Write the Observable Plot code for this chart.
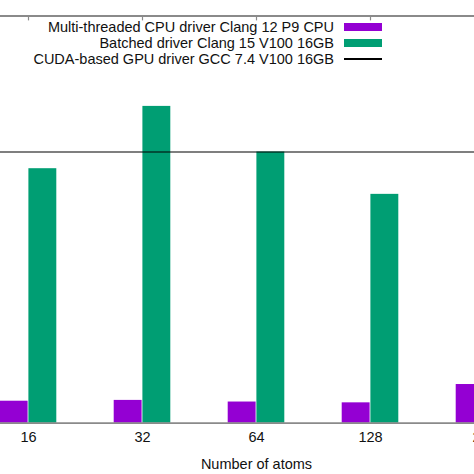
<!DOCTYPE html>
<html>
<head>
<meta charset="utf-8">
<script src="https://cdn.jsdelivr.net/npm/d3@7"></script>
<script src="https://cdn.jsdelivr.net/npm/@observablehq/plot@0.6"></script>
<style>
  html, body { margin: 0; padding: 0; background: #fff; }
  #wrap { position: relative; width: 474px; height: 474px; overflow: hidden; background: #fff; font-family: "Liberation Sans", Arial, sans-serif; }
  #chart { position: absolute; left: -31.4px; top: 0; width: 574px; height: 474px; z-index: 1; }
  #chart svg { display: block; max-width: none !important; width: 574px !important; height: 474px !important; }
  #legend { position: absolute; top: 19px; left: 0; width: 382px; font-size: 14.5px; color: #111; z-index: 2; }
  .row { display: flex; justify-content: flex-end; align-items: center; height: 16px; }
  .sw { width: 38px; margin-left: 10px; }
</style>
</head>
<body>
<div id="wrap">
  <div id="chart"></div>
  <div id="legend"></div>
</div>
<script>
// Data (y values in relative units; the y axis is cropped in the reference)
const categories = ["16", "32", "64", "128", "256"];
const cpuValues = [5.4, 5.6, 5.2, 5.0, 9.5];          // Multi-threaded CPU driver Clang 12 P9 CPU
const batchedValues = [62.5, 77.8, 66.6, 56.2, null]; // Batched driver Clang 15 V100 16GB
const cudaValue = 66.6;                               // CUDA-based GPU driver GCC 7.4 V100 16GB
const yMax = 100;
const seriesNames = [
  "Multi-threaded CPU driver Clang 12 P9 CPU",
  "Batched driver Clang 15 V100 16GB",
  "CUDA-based GPU driver GCC 7.4 V100 16GB"
];
const colors = ["#9400d3", "#009e73", "#000000"];

const cpuData = categories.map((c, i) => ({cat: c, v: cpuValues[i]})).filter(d => d.v != null);
const batchedData = categories.map((c, i) => ({cat: c, v: batchedValues[i]})).filter(d => d.v != null);

const W = 574, H = 474;
const bw = W / categories.length; // band width
const plot = Plot.plot({
  width: W,
  height: H,
  marginLeft: 0,
  marginRight: 0,
  marginTop: 15.5,
  marginBottom: 51.3,
  style: {fontFamily: "Liberation Sans, Arial, sans-serif", fontSize: "14.5px", color: "#111", background: "white", maxWidth: "none"},
  x: {domain: categories, padding: 0},
  y: {domain: [0, yMax], axis: null},
  marks: [
    Plot.barY(cpuData, {x: "cat", y: "v", fill: colors[0], insetLeft: bw * 0.25, insetRight: bw * 0.5}),
    Plot.barY(batchedData, {x: "cat", y: "v", fill: colors[1], insetLeft: bw * 0.5, insetRight: bw * 0.25}),
    Plot.ruleY([cudaValue], {stroke: colors[2], strokeWidth: 1.2}),
    Plot.ruleY([yMax], {stroke: "#8a8a8a", strokeWidth: 1.8}),
    Plot.ruleY([0], {stroke: "#8a8a8a", strokeWidth: 1.8}),
    Plot.ruleX(categories, {x: d => d, y1: yMax, y2: yMax - 1.2, stroke: "#8a8a8a", strokeWidth: 1.2}),
    Plot.axisX({anchor: "bottom", tickSize: 0, tickPadding: 9, fontSize: 14.5, label: "Number of atoms", labelAnchor: "center", labelArrow: "none", labelOffset: 46})
  ]
});
document.getElementById("chart").appendChild(plot);

const legend = document.getElementById("legend");
seriesNames.forEach((name, i) => {
  const row = document.createElement("div");
  row.className = "row";
  const t = document.createElement("span");
  t.textContent = name;
  const sw = document.createElement("span");
  sw.className = "sw";
  if (i < 2) { sw.style.height = "8px"; sw.style.background = colors[i]; }
  else { sw.style.height = "1.2px"; sw.style.background = colors[i]; }
  row.appendChild(t);
  row.appendChild(sw);
  legend.appendChild(row);
});
</script>
</body>
</html>
